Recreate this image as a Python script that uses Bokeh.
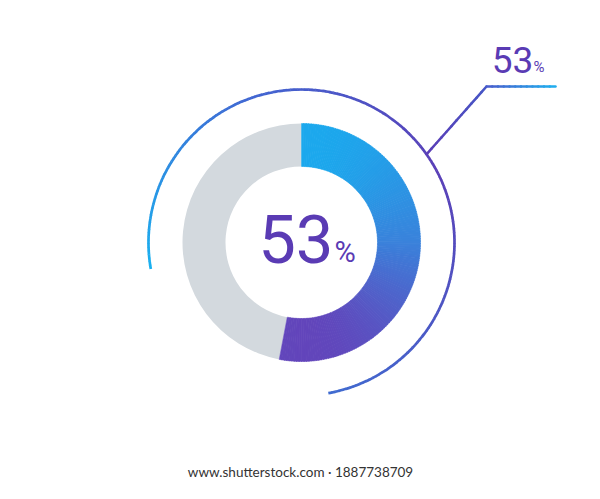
import numpy as np
from bokeh.plotting import figure
from bokeh.models import Range1d
from bokeh.core.properties import value
from bokeh.embed import file_html
from bokeh.resources import INLINE

# ---- data ----
percent = 53
shares = [53, 47]
share_names = ["value", "rest"]
label_main = "53"
label_unit = "%"
footer = "www.shutterstock.com \u00b7 1887738709"

# ---- style ----
grey = "#d3d9de"
donut_stops = [(0.0, "#15b1f1"), (0.5, "#3a82db"), (1.0, "#6b38b4")]
ring_stops = [(0.0, "#19b1f0"), (0.30, "#4166d2"), (0.60, "#5a3fb7"), (1.0, "#3f6bd0")]
text_color = "#5a3bb4"

W, H = 584, 483
REF_H = 499
cx, cy = 301, REF_H - 242      # reference pixel coords (y up)
r_in, r_out = 76, 119
ring_r = 153


def hex2rgb(h):
    h = h.lstrip("#")
    return np.array([int(h[i:i + 2], 16) for i in (0, 2, 4)], float)


def grad(stops, t):
    t = min(max(t, 0.0), 1.0)
    for (t0, c0), (t1, c1) in zip(stops[:-1], stops[1:]):
        if t <= t1:
            f = 0 if t1 == t0 else (t - t0) / (t1 - t0)
            c = hex2rgb(c0) * (1 - f) + hex2rgb(c1) * f
            return "#%02x%02x%02x" % tuple(int(round(v)) for v in c)
    return stops[-1][1]


p = figure(width=W, height=H, output_backend="svg", toolbar_location=None,
           x_range=Range1d(0, W), y_range=Range1d(REF_H - H, REF_H),
           min_border=0, background_fill_color="white", border_fill_color="white")
p.axis.visible = False
p.grid.visible = False
p.outline_line_color = None

# ---- donut ----
start = np.pi / 2
frac = shares[0] / sum(shares)
end_val = start - 2 * np.pi * frac
p.annular_wedge(x=cx, y=cy, inner_radius=r_in, outer_radius=r_out,
                start_angle=end_val, end_angle=start - 2 * np.pi,
                direction="clock", fill_color=grey, line_color=None)
N = 160
edges = np.linspace(start, end_val, N + 1)
s_a, e_a, cols = [], [], []
for i in range(N):
    a0, a1 = edges[i], edges[i + 1]
    mid = (a0 + a1) / 2
    ymid = np.sin(mid) * (r_in + r_out) / 2
    t = (r_out - ymid) / (2 * r_out)
    s_a.append(a1)
    e_a.append(a0 + (0.004 if i > 0 else 0))
    cols.append(grad(donut_stops, t))
p.annular_wedge(x=cx, y=cy, inner_radius=r_in, outer_radius=r_out,
                start_angle=s_a, end_angle=e_a, direction="anticlock",
                fill_color=cols, line_color=cols, line_width=0.5)

# ---- outer ring ----
ring_start = np.deg2rad(189.8)
ring_end = np.deg2rad(-79.9)
M = 200
redges = np.linspace(ring_start, ring_end, M + 1)
rs, re_, rc = [], [], []
for i in range(M):
    rs.append(redges[i + 1])
    re_.append(redges[i] + 0.003)
    rc.append(grad(ring_stops, (i + 0.5) / M))
p.arc(x=cx, y=cy, radius=ring_r, start_angle=rs, end_angle=re_,
      direction="anticlock", line_color=rc, line_width=2.7)

# ---- leader line ----
anchor_ang = np.deg2rad(35.2)
ax_, ay_ = cx + ring_r * np.cos(anchor_ang), cy + ring_r * np.sin(anchor_ang)
bx_, by_ = 486, REF_H - 86
ex_ = 555
K = 12
xs0, ys0, xs1, ys1, lc = [], [], [], [], []
for i in range(K):
    f0, f1 = i / K, (i + 1) / K
    xs0.append(ax_ + (bx_ - ax_) * f0); ys0.append(ay_ + (by_ - ay_) * f0)
    xs1.append(ax_ + (bx_ - ax_) * f1); ys1.append(ay_ + (by_ - ay_) * f1)
    lc.append(grad([(0, "#5b3db6"), (1, "#4656c6")], (i + 0.5) / K))
for i in range(K):
    f0, f1 = i / K, (i + 1) / K
    xs0.append(bx_ + (ex_ - bx_) * f0); ys0.append(by_)
    xs1.append(bx_ + (ex_ - bx_) * f1); ys1.append(by_)
    lc.append(grad([(0, "#4a5acb"), (1, "#1eb0ef")], (i + 0.5) / K))
p.segment(x0=xs0, y0=ys0, x1=xs1, y1=ys1, line_color=lc, line_width=2.5,
          line_cap="round")


# ---- texts ----
def put_text(x, base_px, txt, size, align, color=text_color, fnt="Roboto"):
    # base_px: wanted baseline in reference pixels from top
    p.text(x=[x], y=[REF_H - base_px + 0.35 * size], text=[txt],
           text_font=value(fnt), text_font_size=f"{size}px", text_color=color,
           text_align=align, text_baseline="alphabetic")


put_text(cx + 32, 262, label_main, 67, "right")
put_text(cx + 33, 262, label_unit, 29, "left")
put_text(512, 72, label_main, 37, "center")
put_text(533, 72, label_unit, 15, "left")
put_text(300, 476, footer, 13.5, "center", color="#333333", fnt="Lato")

open("out.html", "w").write(file_html(p, INLINE))
